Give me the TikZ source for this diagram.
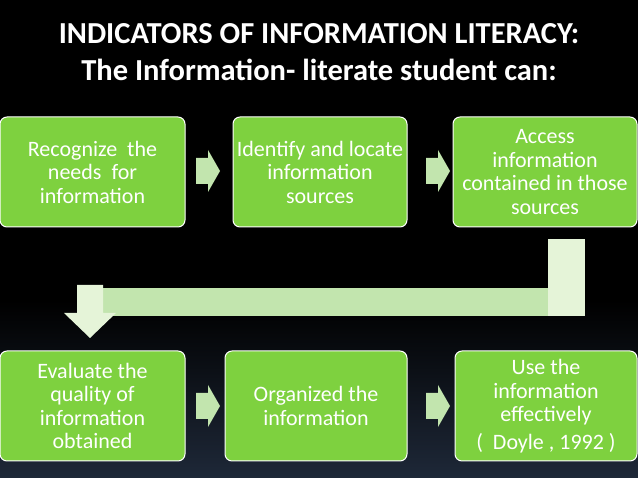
\documentclass[tikz,border=0pt]{standalone}
\usepackage{fontspec}
\setmainfont{Carlito}
\usepackage{xcolor}
\definecolor{boxgreen}{HTML}{7ED13F}
\definecolor{palegreen}{HTML}{E5F4D8}
\definecolor{midgreen}{HTML}{C2E5AE}
\definecolor{navy}{HTML}{1E2838}
\tikzset{
  stepbox/.style={draw=white,line width=1pt,fill=boxgreen,rounded corners=7pt,
    text=white,align=center,font=\fontsize{22}{23.5}\selectfont,
    minimum height=110pt,inner sep=1pt},
  chevron/.style={fill=midgreen}
}
\begin{document}
\begin{tikzpicture}[x=1pt,y=-1pt]
\fill[black] (0,0) rectangle (638,478);
\shade[top color=black,bottom color=navy] (0,300) rectangle (638,478);
\useasboundingbox (0,0) rectangle (638,478);
\node[text=white,font=\bfseries\fontsize{30.5}{37}\selectfont,align=center] (title) at (319,52)
  {INDICATORS OF INFORMATION LITERACY:\\The Information- literate student can:};
% top row
\node[stepbox,minimum width=185pt] (recog) at (92.5,172) {Recognize\ \ the\\needs\ \ for\\information};
\node[stepbox,minimum width=174pt] (ident) at (320,172) {Identify and locate\\information\\sources};
\node[stepbox,minimum width=184pt] (access) at (545,172) {Access\\information\\contained in those\\sources};
% bottom row
\node[stepbox,minimum width=185pt] (eval) at (92.5,406) {Evaluate the\\quality of\\information\\obtained};
\node[stepbox,minimum width=182pt] (organ) at (316,406) {Organized the\\information};
\node[stepbox,minimum width=182pt] (use) at (546,406) {Use the\\information\\effectively\\[4pt](\ \ Doyle , 1992 )};
% small arrows
\foreach \x/\y in {196/171, 426/171, 196/406, 426/406}
  \fill[chevron] (\x,\y-13) -- (\x+12,\y-13) -- (\x+12,\y-21) -- (\x+24,\y)
    -- (\x+12,\y+21) -- (\x+12,\y+13) -- (\x,\y+13) -- cycle;
% bent arrow
\fill[midgreen] (102,288) rectangle (585,316);
\fill[palegreen] (548,239) rectangle (585,316);
\fill[palegreen] (77,285) -- (103,285) -- (103,313) -- (116,313) -- (90,338)
  -- (64,313) -- (77,313) -- cycle;
\end{tikzpicture}
\end{document}
